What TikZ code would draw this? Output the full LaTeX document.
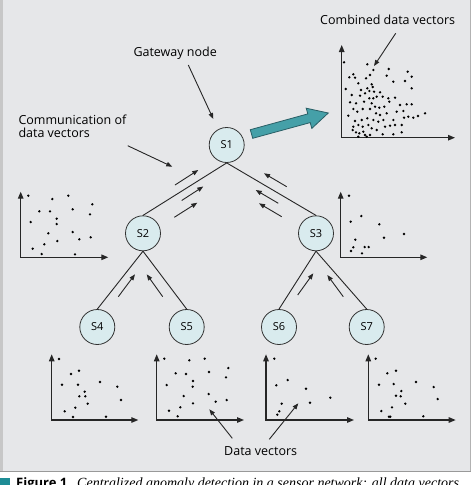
\documentclass[tikz,border=0pt]{standalone}
\usepackage{fontspec}
\setmainfont{Open Sans}
\newfontfamily\capserif{Liberation Serif}
\newfontfamily\capsans{Open Sans}
\usetikzlibrary{arrows.meta}
\definecolor{bggray}{HTML}{E6E7E9}
\definecolor{nodefill}{HTML}{D9EBEE}
\definecolor{teala}{HTML}{45A0A8}
\definecolor{tealdark}{HTML}{2A5F66}
\definecolor{capteal}{HTML}{1E8C95}
\newcommand\scatterdots[1]{\foreach \p in {#1} {\fill[black] \p circle (1.3pt);}}
\begin{document}
\begin{tikzpicture}[x=1pt,y=-1pt,
  snode/.style={circle,draw=black!80,fill=nodefill,line width=0.8pt,minimum size=35pt,inner sep=0pt,font=\fontsize{11}{13}\selectfont},
  edge/.style={draw=black!85,line width=0.9pt},
  flow/.style={draw=black!85,line width=0.9pt,-{Triangle[length=6pt,width=4.5pt]}},
  axis/.style={draw=black!85,line width=1.2pt,{Triangle[length=7pt,width=5.5pt]}-{Triangle[length=7pt,width=5.5pt]}},
  lbl/.style={font=\fontsize{12.5}{13}\selectfont,inner sep=0pt,anchor=base west},
]
\useasboundingbox (0,0) rectangle (474,485);
% background frame
\fill[white] (0,0) rectangle (474,485);
\fill[bggray] (0,0) rectangle (470.5,471);
\fill[black!22] (0,0) rectangle (2.5,471);
\draw[black!30,line width=0.8pt] (470.5,0) -- (470.5,471);
\draw[black!40,line width=0.9pt] (0,471) -- (470.5,471);

% sensor nodes
\node[snode] (s1) at (226.7,145) {S1};
\node[snode] (s2) at (143,233.3) {S2};
\node[snode] (s3) at (316,233.3) {S3};
\node[snode] (s4) at (97.3,327) {S4};
\node[snode] (s5) at (186.7,327) {S5};
\node[snode] (s6) at (279,327) {S6};
\node[snode] (s7) at (366.7,327) {S7};

% tree edges
\draw[edge] (s1.south) -- (s2.north);
\draw[edge] (s1.south) -- (s3.north);
\draw[edge] (s2.south) -- (s4.north);
\draw[edge] (s2.south) -- (s5.north);
\draw[edge] (s3.south) -- (s6.north);
\draw[edge] (s3.south) -- (s7.north);

% communication arrows
\draw[flow] (175,185) -- (198.3,170);
\draw[flow] (181.7,200.5) -- (203.3,186.5);
\draw[flow] (174.3,217.3) -- (197.3,202.7);
\draw[flow] (286.7,186.7) -- (264,173.3);
\draw[flow] (278.3,203.3) -- (255.7,190);
\draw[flow] (281.7,216.7) -- (259,203.3);
\draw[flow] (118.3,296.7) -- (135,274.3);
\draw[flow] (162.7,296.7) -- (146.7,274.3);
\draw[flow] (297.7,295) -- (313.3,273.3);
\draw[flow] (343.3,296.7) -- (327.3,275);

% big teal arrow
\filldraw[fill=teala,draw=tealdark,line width=0.8pt,line join=miter]
  (250.3,129.7) -- (307.8,113.9) -- (306.2,108.2) -- (328.3,113) -- (311.8,128.4) -- (310.2,122.6) -- (252.7,138.3) -- cycle;

% labels
\node[lbl] (gw) at (133.3,56) {Gateway node};
\coordinate (gwt) at (188.3,65);
\coordinate (gwh) at (213.3,119);
\draw[flow] (gwt) -- (gwh);

\node[lbl] (com1) at (18.3,124) {Communication of};
\node[lbl] (com2) at (18.3,137) {data vectors};
\coordinate (comt) at (127.7,145.7);
\coordinate (comh) at (172.3,166.7);
\draw[flow] (comt) -- (comh);

\node[lbl] (cdv) at (320,24) {Combined data vectors};
\coordinate (cdvt) at (395.7,33.3);
\coordinate (cdvh) at (374,66);
\draw[flow] (cdvt) -- (cdvh);

\node[lbl] (dv) at (224,455) {Data vectors};
\coordinate (dvt1) at (232.3,438.3);
\coordinate (dvh1) at (209.3,409.3);
\coordinate (dvt2) at (269.3,439.3);
\coordinate (dvh2) at (298.3,403.3);
\draw[flow] (dvt1) -- (dvh1);
\draw[flow] (dvt2) -- (dvh2);

% combined plot
\draw[axis] (341.7,45) -- (341.7,137.7) -- (455,137.7);
\scatterdots{(344,62.3),(367.3,64.3),(373.3,70),(388.7,69),(407.7,71.7),(349.3,77.3),(355,77.7),(353.3,74.3),(366,78.3),(370,75),(386.7,75.7),(393.3,81.7),(405,81),(411.7,76.7),(411.7,88.3),(345.7,89),(358.3,83.3),(367.3,88.3),(371.7,84.3),(372.7,87),(361,90),(369.3,91),(374,91.7),(380,92.3),(351.7,95),(360,95.7),(365,93.3),(369.3,98.3),(373.3,98.3),(376.7,96.7),(382.7,96.7),(388.3,98.3),(395,97.7),(400,105),(406.7,104.3),(411.7,104.3),(350,102.3),(356,103.3),(364,101.7),(371.7,103.3),(375,106.7),(379.3,107.7),(384.3,106.7),(389.3,101.7),(353.3,109),(357.3,111.7),(362.7,109),(370,109),(376,113.3),(380,115),(386.7,113.3),(396.7,111.7),(403.3,111),(408.3,116.7),(413.3,117.7),(404,117.7),(348.3,115.7),(355,121),(361.7,120),(367.3,118.3),(373.3,120),(378.3,121.7),(383.3,120),(393.3,120),(395,125),(353.3,126.7),(358.3,125),(362.7,126.7),(368.3,125),(371.7,128.3),(376.7,130),(385,126.7),(390,125.7),(401.7,125),(352.7,130),(356,132.3),(359.3,133.3),(363.3,131.7),(370,135),(366.7,136.7),(358.3,136.7),(382.7,134.3),(393.3,134.3),(401.7,132.3),(365,135),(425,113.3),(418,116)}

% S2 plot
\draw[axis] (20.7,191.7) -- (20.7,257.3) -- (108.3,257.3);
\scatterdots{(28.3,195.7),(52.3,199),(68.3,195.7),(92.3,204.3),(39.3,211.3),(50,211.3),(72.7,209.3),(90,214.3),(30.7,222),(56.7,218.7),(56.7,224),(48.3,233.3),(72.7,232),(90.7,237.3),(79.3,239.3),(57.3,241),(44.3,244.3),(32.7,248.7),(41.7,254),(75,254.3)}

% S3 plot
\draw[axis] (340.7,191.7) -- (340.7,257.3) -- (427.3,257.3);
\scatterdots{(349,195.7),(361.3,216),(350.7,221.7),(379.3,224.3),(404,234),(384,237.7),(355.3,239.7),(353.3,247.3),(364.7,247),(368.7,247),(351,251),(362,253.3)}

% S4 plot
\draw[axis] (51.7,354.3) -- (51.7,420) -- (138.3,420);
\scatterdots{(59,359),(79,370.7),(71,374),(100,382),(117.3,386.7),(62,384.7),(78,384.7),(84.7,391.7),(79.3,396.3),(85.3,396.3),(121,400),(87.7,403.7),(75.3,407.7),(64.7,411.3),(73,417),(106,416.7)}

% S5 plot
\draw[axis] (156.7,354.3) -- (156.7,420) -- (244,420);
\scatterdots{(164.3,358.7),(189.3,360.3),(204.7,358.7),(228.3,368),(175.7,373.3),(186,374),(209,372),(226,377.3),(166.7,385),(193,381),(192.7,386.7),(183.7,396),(208.7,394),(226.7,400),(215.7,401.7),(193,403.3),(180.3,407.3),(169,410.7),(177.7,416.3)}

% S6 plot
\draw[axis] (266,354.3) -- (266,420) -- (354,420);
\scatterdots{(274.3,358.7),(287.7,380),(276.3,385.3),(306,388.7),(330.3,397.7),(310,402.7),(281.7,403.7),(279.3,411.3),(277.3,414.7)}

% S7 plot
\draw[axis] (368.3,354.3) -- (368.3,420) -- (455.7,420);
\scatterdots{(375.7,358.7),(396,370.7),(387.3,373.3),(379,384.7),(393.7,384),(416,382),(433.7,387),(401.3,391),(396,395.7),(400.7,396.3),(437.7,399),(405.3,403.7),(392,407.3),(381.3,411),(389,416.7),(390.3,416.7),(423.3,416.3)}

% caption (cut off by the page edge)
\fill[capteal] (0,477.8) rectangle (10,490);
\node[inner sep=0pt,anchor=base west] (capa) at (16,487.5) {\capsans\bfseries\fontsize{13}{15}\selectfont Figure 1.};
\node[inner sep=0pt,anchor=base west] (capb) at (77,487.5) {\capserif\itshape\fontsize{14}{16}\selectfont Centralized anomaly detection in a sensor network: all data vectors};
\end{tikzpicture}
\end{document}
